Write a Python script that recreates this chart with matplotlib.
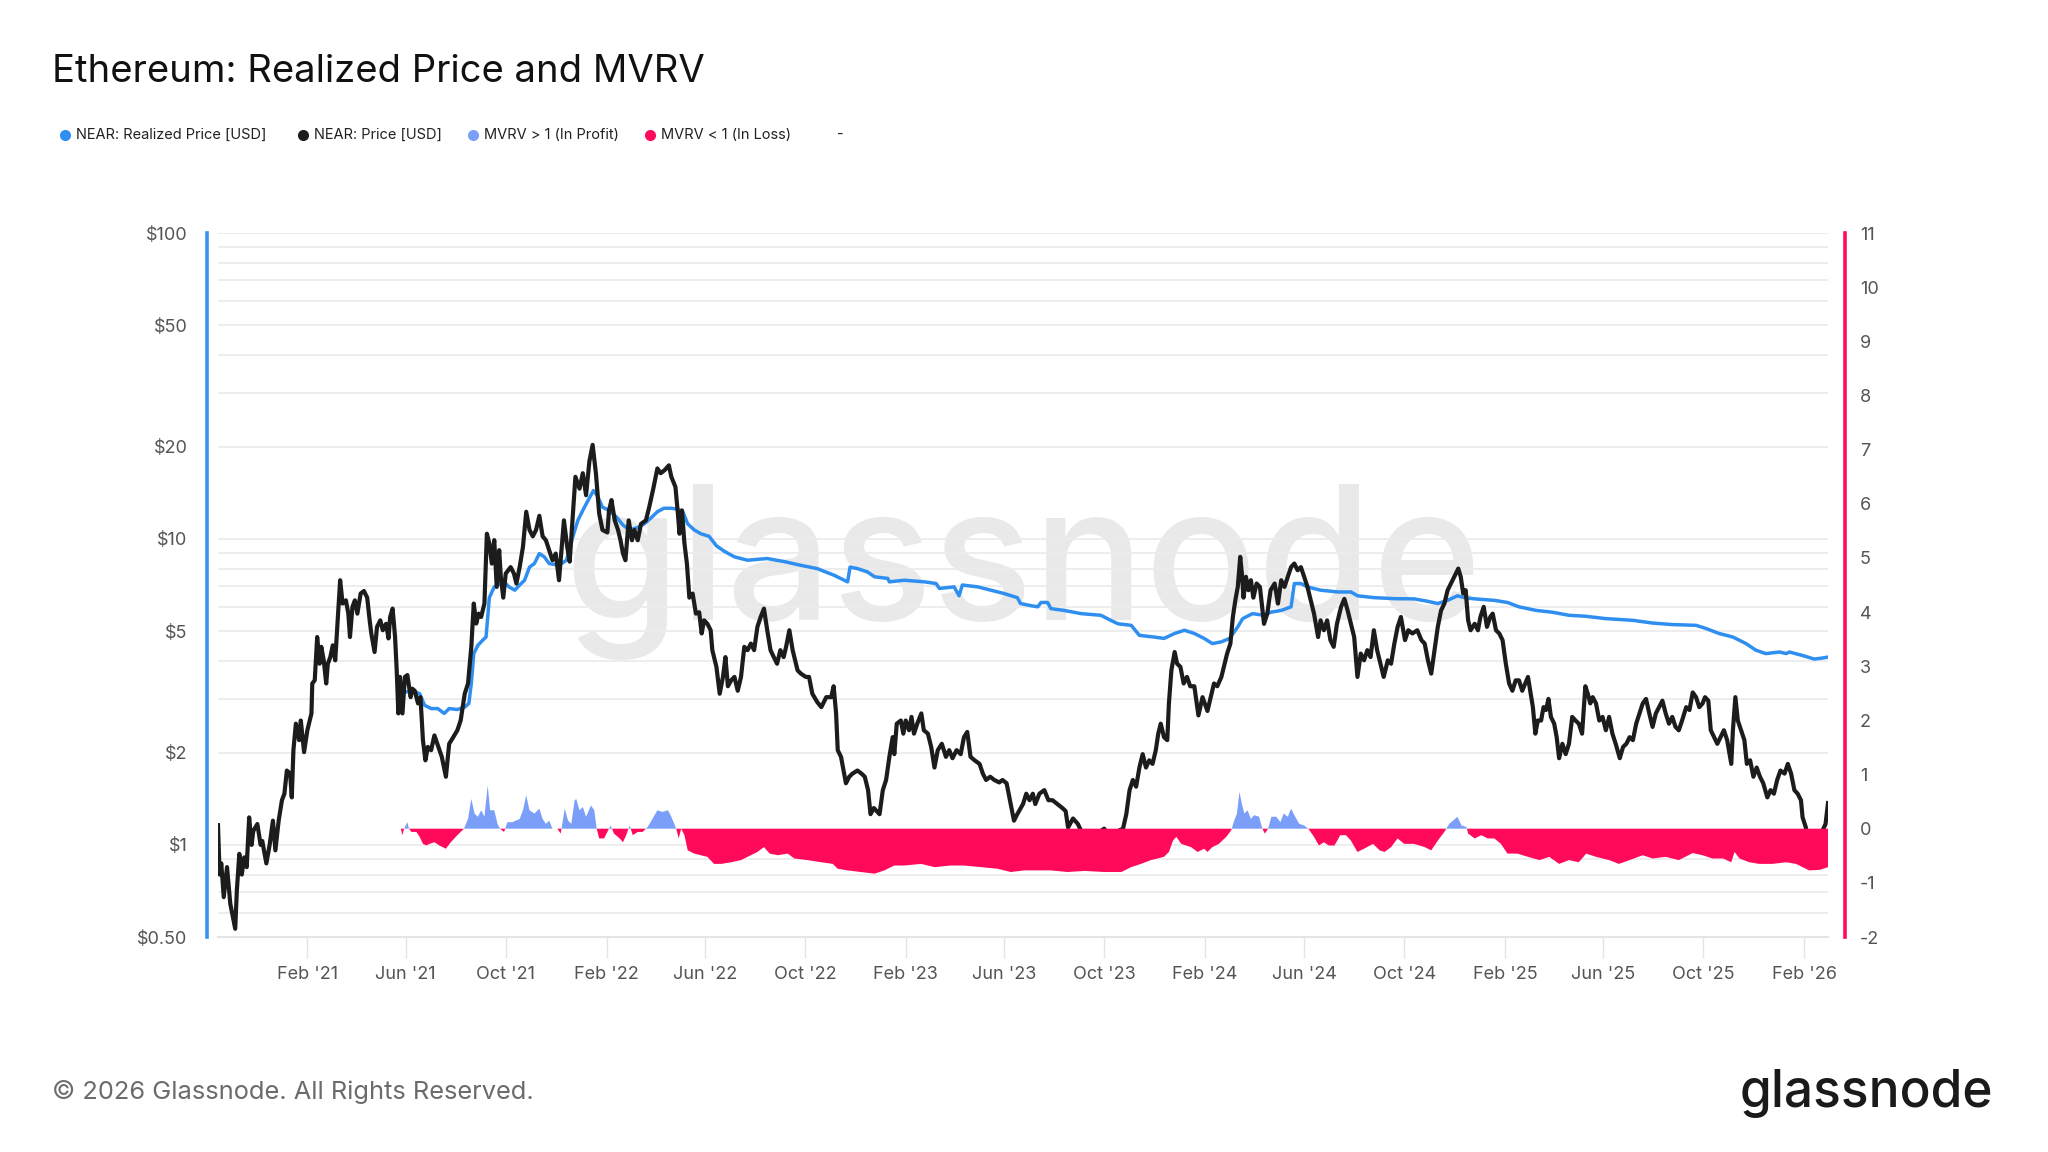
#!/usr/bin/env python3
"""
NEAR realized price vs price with MVRV oscillator (glassnode style)
"""
import matplotlib
matplotlib.use('Agg')
import matplotlib.pyplot as plt
import matplotlib.ticker as mticker
from matplotlib.lines import Line2D
import numpy as np
import pandas as pd

plt.rcParams['font.family'] = ['Inter', 'DejaVu Sans']

# days counted from 2021-02-01
base_date = pd.Timestamp('2021-02-01')

price_day = [
    -109, -107, -105, -102, -98, -94, -88, -86, -83, -80,
    -77, -74, -71, -68, -66, -61, -57, -55, -50, -46,
    -42, -39, -35, -31, -28, -25, -21, -19, -17, -14,
    -10, -8, -4, 0, 5, 6, 9, 12, 15, 17,
    20, 23, 25, 28, 31, 34, 37, 40, 43, 47,
    50, 52, 55, 58, 61, 65, 69, 73, 76, 78,
    82, 85, 89, 92, 96, 99, 101, 104, 107, 109,
    111, 113, 116, 119, 122, 126, 128, 131, 135, 138,
    141, 144, 147, 151, 155, 159, 164, 169, 173, 178,
    183, 187, 192, 196, 200, 203, 206, 209, 212, 216,
    219, 222, 225, 228, 231, 234, 236, 239, 242, 248,
    252, 255, 259, 263, 267, 271, 275, 279, 283, 287,
    291, 295, 299, 303, 307, 313, 317, 320, 324, 327,
    332, 336, 340, 344, 348, 352, 356, 360, 366, 368,
    371, 375, 379, 382, 385, 388, 392, 396, 399, 403,
    407, 413, 417, 422, 427, 431, 436, 441, 444, 449,
    452, 454, 457, 460, 463, 466, 470, 474, 478, 481,
    484, 488, 492, 494, 499, 503, 507, 510, 513, 517,
    521, 525, 529, 533, 537, 541, 545, 549, 553, 557,
    561, 565, 569, 573, 577, 581, 584, 588, 592, 598,
    602, 608, 612, 616, 622, 627, 633, 639, 642, 645,
    647, 651, 657, 661, 665, 671, 676, 680, 684, 687,
    691, 698, 702, 706, 710, 714, 716, 719, 724, 727,
    730, 734, 737, 740, 744, 749, 752, 757, 761, 765,
    769, 774, 779, 783, 787, 792, 797, 801, 805, 809,
    814, 820, 824, 828, 833, 838, 844, 848, 853, 858,
    862, 866, 873, 877, 881, 885, 888, 893, 899, 904,
    909, 915, 921, 925, 928, 934, 940, 944, 956, 964,
    972, 980, 989, 995, 999, 1003, 1007, 1011, 1015, 1019,
    1023, 1027, 1031, 1035, 1038, 1041, 1045, 1049, 1051, 1054,
    1058, 1061, 1065, 1069, 1073, 1077, 1082, 1087, 1092, 1098,
    1102, 1106, 1110, 1115, 1119, 1122, 1126, 1129, 1132, 1135,
    1138, 1140, 1142, 1145, 1148, 1151, 1154, 1158, 1162, 1167,
    1171, 1175, 1180, 1184, 1188, 1192, 1196, 1200, 1204, 1208,
    1212, 1216, 1220, 1224, 1228, 1233, 1236, 1240, 1244, 1248,
    1252, 1256, 1261, 1265, 1269, 1273, 1277, 1281, 1285, 1289,
    1293, 1297, 1301, 1305, 1309, 1313, 1318, 1322, 1326, 1330,
    1334, 1339, 1343, 1348, 1354, 1359, 1363, 1367, 1371, 1375,
    1379, 1383, 1387, 1391, 1395, 1399, 1404, 1407, 1410, 1413,
    1416, 1419, 1424, 1428, 1431, 1435, 1439, 1443, 1446, 1450,
    1454, 1458, 1462, 1466, 1470, 1474, 1478, 1482, 1489, 1493,
    1495, 1498, 1501, 1505, 1508, 1511, 1514, 1517, 1521, 1524,
    1527, 1531, 1535, 1539, 1543, 1547, 1551, 1555, 1559, 1562,
    1565, 1568, 1572, 1576, 1580, 1584, 1588, 1592, 1596, 1601,
    1605, 1609, 1613, 1617, 1621, 1625, 1629, 1633, 1637, 1641,
    1645, 1649, 1653, 1657, 1661, 1665, 1669, 1673, 1677, 1682,
    1686, 1690, 1694, 1698, 1702, 1705, 1709, 1712, 1716, 1720,
    1724, 1728, 1732, 1737, 1739, 1742, 1745, 1749, 1753, 1756,
    1760, 1764, 1768, 1772, 1776, 1781, 1785, 1789, 1793, 1797,
    1802, 1806, 1810, 1814, 1818, 1822, 1824, 1828, 1832, 1840,
    1848, 1852, 1855,
]
price_usd = [
    1.16, 0.80, 0.87, 0.675, 0.846, 0.642, 0.532, 0.71, 0.935, 0.80,
    0.91, 0.846, 1.23, 1.0, 1.11, 1.17, 1.0, 1.03, 0.87, 1.0,
    1.20, 0.96, 1.20, 1.40, 1.47, 1.75, 1.71, 1.43, 2.04, 2.49,
    2.20, 2.55, 2.01, 2.37, 2.69, 3.37, 3.45, 4.78, 3.91, 4.44,
    4.01, 3.37, 3.91, 4.11, 4.49, 4.01, 5.42, 7.33, 6.15, 6.30,
    5.70, 4.78, 6.0, 6.3, 5.70, 6.63, 6.76, 6.43, 5.42, 4.91,
    4.27, 5.16, 5.42, 5.03, 5.28, 4.73, 5.56, 5.92, 4.78, 3.72,
    2.69, 3.54, 2.69, 3.54, 3.59, 3.04, 3.24, 3.19, 2.90, 3.04,
    2.20, 1.89, 2.09, 2.04, 2.28, 2.12, 1.94, 1.67, 2.14, 2.25,
    2.37, 2.55, 3.12, 3.37, 4.44, 6.15, 5.29, 5.70, 5.56, 6.15,
    10.4, 9.67, 8.31, 9.91, 6.97, 9.19, 7.52, 6.43, 7.71, 8.09,
    7.71, 7.15, 8.09, 9.42, 12.27, 10.7, 10.2, 10.7, 11.9, 10.2,
    9.9, 9.19, 8.52, 8.96, 7.33, 11.5, 9.42, 8.43, 12.12, 15.96,
    14.6, 16.4, 13.9, 17.9, 20.3, 16.4, 12.1, 10.7, 10.5, 12.4,
    13.4, 11.5, 10.7, 9.9, 8.96, 8.52, 11.5, 9.9, 10.7, 9.9,
    11.2, 11.5, 12.7, 14.6, 17.0, 16.4, 16.8, 17.4, 15.96, 14.8,
    12.1, 10.4, 12.4, 9.67, 8.31, 6.43, 6.63, 5.70, 5.76, 4.91,
    5.42, 5.28, 5.03, 4.33, 3.82, 3.12, 3.54, 4.11, 3.30, 3.45,
    3.54, 3.19, 3.54, 4.44, 4.33, 4.55, 4.33, 5.16, 5.56, 5.92,
    5.03, 4.33, 4.11, 3.91, 4.33, 4.11, 4.44, 5.03, 4.33, 3.72,
    3.63, 3.54, 3.54, 3.12, 2.93, 2.82, 3.04, 3.04, 3.30, 2.69,
    2.04, 1.94, 1.59, 1.67, 1.71, 1.75, 1.71, 1.67, 1.51, 1.26,
    1.32, 1.26, 1.51, 1.63, 1.94, 2.25, 1.98, 2.49, 2.55, 2.31,
    2.55, 2.37, 2.62, 2.31, 2.49, 2.69, 2.37, 2.31, 2.09, 1.79,
    2.04, 2.14, 1.94, 2.04, 1.92, 2.04, 1.98, 2.25, 2.34, 1.94,
    1.89, 1.84, 1.71, 1.63, 1.67, 1.63, 1.60, 1.63, 1.59, 1.36,
    1.20, 1.26, 1.36, 1.47, 1.40, 1.47, 1.36, 1.47, 1.51, 1.40,
    1.40, 1.36, 1.32, 1.29, 1.14, 1.22, 1.17, 1.11, 1.11, 1.09,
    1.13, 1.05, 1.11, 1.13, 1.26, 1.51, 1.63, 1.55, 1.79, 1.98,
    1.79, 1.89, 1.84, 2.04, 2.31, 2.49, 2.25, 2.20, 2.90, 3.72,
    4.27, 3.91, 3.82, 3.37, 3.54, 3.30, 3.30, 2.65, 3.04, 2.74,
    3.04, 3.37, 3.30, 3.54, 3.91, 4.22, 4.55, 5.56, 6.3, 6.97,
    8.74, 7.71, 6.43, 7.52, 6.8, 7.33, 6.43, 7.15, 6.97, 5.28,
    5.70, 6.8, 7.15, 6.15, 7.33, 6.97, 7.52, 8.09, 8.31, 7.90,
    8.09, 7.52, 6.97, 6.3, 5.70, 4.78, 5.42, 5.03, 5.42, 4.67,
    4.44, 5.28, 6.0, 6.37, 5.84, 5.28, 4.78, 3.54, 4.22, 4.01,
    4.33, 4.11, 5.03, 4.33, 3.91, 3.54, 4.01, 3.91, 4.55, 5.16,
    5.56, 4.67, 5.03, 4.91, 5.03, 4.67, 4.55, 4.01, 3.63, 4.33,
    5.16, 5.84, 6.15, 6.8, 7.15, 7.52, 8.0, 7.52, 6.63, 6.8,
    5.42, 5.03, 5.28, 5.03, 5.56, 6.0, 5.16, 5.56, 5.70, 5.03,
    4.91, 4.67, 3.91, 3.37, 3.19, 3.45, 3.45, 3.19, 3.54, 3.04,
    2.82, 2.31, 2.55, 2.55, 2.82, 2.76, 3.0, 2.62, 2.49, 2.25,
    1.92, 2.14, 1.98, 2.14, 2.62, 2.55, 2.49, 2.31, 3.30, 3.12,
    2.90, 3.04, 2.90, 2.55, 2.62, 2.37, 2.62, 2.31, 2.14, 1.92,
    2.09, 2.14, 2.25, 2.20, 2.49, 2.69, 2.90, 3.0, 2.69, 2.43,
    2.69, 2.82, 2.96, 2.69, 2.49, 2.62, 2.43, 2.37, 2.55, 2.82,
    2.76, 3.15, 3.04, 2.82, 2.90, 3.04, 2.96, 2.37, 2.25, 2.14,
    2.25, 2.37, 2.20, 1.84, 2.37, 3.04, 2.55, 2.37, 2.20, 1.84,
    1.89, 1.67, 1.79, 1.67, 1.59, 1.43, 1.51, 1.47, 1.63, 1.75,
    1.71, 1.84, 1.71, 1.51, 1.47, 1.40, 1.23, 1.14, 1.0, 0.98,
    1.11, 1.17, 1.37,
]

realized_day = [
    120, 128, 137, 143, 151, 159, 167, 173, 183, 192,
    197, 200, 203, 208, 214, 218, 222, 228, 236, 242,
    246, 253, 259, 265, 271, 277, 283, 289, 295, 307,
    316, 324, 330, 338, 344, 349, 354, 360, 368, 377,
    385, 393, 403, 411, 419, 427, 435, 444, 452, 458,
    464, 472, 480, 490, 499, 509, 521, 537, 561, 582,
    602, 622, 643, 659, 662, 671, 683, 692, 708, 710,
    728, 753, 767, 771, 789, 795, 799, 818, 834, 850,
    866, 870, 883, 891, 895, 903, 907, 923, 944, 968,
    980, 989, 1005, 1015, 1033, 1045, 1058, 1070, 1082, 1094,
    1104, 1115, 1125, 1135, 1141, 1153, 1167, 1175, 1188, 1200,
    1204, 1212, 1220, 1236, 1257, 1273, 1281, 1301, 1326, 1350,
    1366, 1379, 1391, 1403, 1411, 1424, 1448, 1464, 1478, 1499,
    1519, 1539, 1559, 1584, 1617, 1641, 1665, 1694, 1706, 1722,
    1739, 1755, 1767, 1779, 1796, 1804, 1808, 1824, 1838, 1848,
    1855,
]
realized_usd = [
    3.16, 3.19, 3.12, 2.86, 2.79, 2.79, 2.69, 2.79, 2.77, 2.82,
    2.90, 3.37, 4.22, 4.49, 4.67, 4.78, 6.43, 6.97, 7.15, 7.15,
    6.97, 6.8, 7.07, 7.33, 8.09, 8.31, 8.96, 8.74, 8.31, 8.2,
    8.52, 10.2, 11.5, 12.7, 13.6, 14.4, 13.8, 12.7, 12.4, 11.8,
    11.1, 10.7, 10.9, 11.2, 11.7, 12.27, 12.6, 12.6, 12.5, 12.27,
    11.2, 10.7, 10.4, 10.2, 9.5, 9.1, 8.74, 8.52, 8.63, 8.43,
    8.2, 8.0, 7.6, 7.24, 8.09, 8.0, 7.81, 7.52, 7.43, 7.24,
    7.33, 7.24, 7.15, 6.89, 6.97, 6.52, 7.07, 6.97, 6.8, 6.63,
    6.43, 6.15, 6.05, 6.0, 6.2, 6.2, 5.92, 5.84, 5.70, 5.63,
    5.42, 5.28, 5.22, 4.84, 4.78, 4.73, 4.91, 5.03, 4.91, 4.73,
    4.55, 4.61, 4.73, 5.16, 5.49, 5.70, 5.63, 5.76, 5.84, 6.0,
    7.15, 7.15, 6.97, 6.8, 6.71, 6.71, 6.52, 6.43, 6.38, 6.37,
    6.26, 6.15, 6.3, 6.52, 6.43, 6.37, 6.3, 6.2, 6.0, 5.84,
    5.76, 5.63, 5.59, 5.49, 5.42, 5.31, 5.25, 5.22, 5.10, 4.91,
    4.78, 4.55, 4.33, 4.22, 4.27, 4.22, 4.27, 4.16, 4.05, 4.08,
    4.11,
]

mvrv_day = [
    114, 116, 118, 122, 124, 127, 133, 137, 141, 145,
    149, 155, 161, 169, 175, 183, 191, 196, 200, 204,
    208, 212, 216, 220, 223, 228, 232, 235, 240, 244,
    250, 259, 263, 267, 271, 277, 283, 287, 291, 295,
    299, 305, 309, 311, 314, 318, 322, 326, 328, 332,
    336, 340, 346, 350, 353, 356, 362, 366, 370, 374,
    381, 385, 389, 393, 397, 403, 409, 415, 421, 427,
    433, 440, 444, 450, 453, 456, 460, 464, 472, 480,
    488, 496, 505, 517, 529, 541, 549, 557, 564, 574,
    586, 594, 610, 627, 641, 647, 659, 675, 692, 704,
    716, 728, 749, 765, 785, 801, 822, 842, 858, 875,
    891, 907, 927, 948, 972, 993, 1005, 1017, 1029, 1045,
    1051, 1056, 1060, 1066, 1072, 1078, 1086, 1094, 1098, 1104,
    1112, 1121, 1127, 1130, 1134, 1137, 1140, 1143, 1147, 1151,
    1155, 1161, 1165, 1168, 1172, 1176, 1182, 1187, 1191, 1196,
    1200, 1204, 1210, 1216, 1221, 1228, 1234, 1240, 1246, 1253,
    1260, 1267, 1273, 1281, 1289, 1300, 1308, 1314, 1322, 1330,
    1338, 1350, 1363, 1371, 1379, 1387, 1393, 1403, 1408, 1414,
    1416, 1424, 1432, 1440, 1448, 1456, 1464, 1476, 1489, 1503,
    1515, 1527, 1539, 1551, 1560, 1572, 1588, 1600, 1613, 1629,
    1641, 1657, 1673, 1690, 1702, 1714, 1727, 1737, 1741, 1747,
    1759, 1771, 1787, 1804, 1816, 1824, 1832, 1845, 1855,
]
mvrv_val = [
    0, -0.12, 0, 0.12, 0, -0.06, -0.06, -0.15, -0.28, -0.31,
    -0.28, -0.25, -0.31, -0.37, -0.25, -0.12, 0, 0.18, 0.55, 0.28,
    0.22, 0.34, 0.22, 0.80, 0.34, 0.34, 0.09, 0, -0.06, 0.12,
    0.12, 0.18, 0.34, 0.62, 0.34, 0.28, 0.37, 0.18, 0.09, 0.15,
    0, 0, -0.09, 0.09, 0.37, 0.15, 0.09, 0.52, 0.55, 0.34,
    0.40, 0.22, 0.43, 0.34, 0, -0.18, -0.18, -0.06, 0.06, -0.09,
    -0.18, -0.25, -0.12, 0.06, -0.12, -0.06, -0.06, 0.03, 0.18, 0.34,
    0.31, 0.34, 0.22, 0, -0.18, 0, -0.12, -0.40, -0.46, -0.49,
    -0.52, -0.65, -0.65, -0.62, -0.58, -0.49, -0.43, -0.34, -0.46, -0.49,
    -0.46, -0.55, -0.58, -0.62, -0.65, -0.74, -0.77, -0.80, -0.83, -0.77,
    -0.68, -0.68, -0.65, -0.71, -0.68, -0.68, -0.71, -0.74, -0.80, -0.77,
    -0.77, -0.77, -0.80, -0.78, -0.80, -0.80, -0.71, -0.65, -0.58, -0.52,
    -0.43, -0.22, -0.15, -0.28, -0.31, -0.34, -0.43, -0.37, -0.43, -0.34,
    -0.28, -0.15, -0.03, 0.12, 0.28, 0.68, 0.46, 0.28, 0.34, 0.18,
    0.25, 0.22, 0, -0.09, 0, 0.22, 0.22, 0.12, 0.28, 0.22,
    0.37, 0.25, 0.09, 0.06, 0, -0.15, -0.31, -0.25, -0.31, -0.31,
    -0.12, -0.12, -0.22, -0.43, -0.37, -0.28, -0.40, -0.43, -0.34, -0.18,
    -0.28, -0.28, -0.34, -0.40, -0.22, -0.06, 0.09, 0.22, 0.06, 0.03,
    -0.09, -0.18, -0.12, -0.18, -0.18, -0.28, -0.46, -0.46, -0.52, -0.58,
    -0.52, -0.65, -0.58, -0.62, -0.46, -0.52, -0.58, -0.65, -0.58, -0.49,
    -0.55, -0.52, -0.58, -0.45, -0.49, -0.55, -0.55, -0.62, -0.43, -0.55,
    -0.62, -0.65, -0.65, -0.62, -0.65, -0.71, -0.77, -0.76, -0.71,
]

left_ticks = [0.5, 1, 2, 5, 10, 20, 50, 100]
left_labels = ['$0.50', '$1', '$2', '$5', '$10', '$20', '$50', '$100']
grid_levels = [0.5, 0.6, 0.7, 0.8, 0.9, 1, 2, 3, 4, 5, 6, 7, 8, 9, 10,
               20, 30, 40, 50, 60, 70, 80, 90, 100]
right_ticks = list(range(-2, 12))

legend_items = [
    ('NEAR: Realized Price [USD]', '#2f8ff0'),
    ('NEAR: Price [USD]', '#1c1c1c'),
    ('MVRV > 1 (In Profit)', '#7b9ff9'),
    ('MVRV < 1 (In Loss)', '#ff0a5a'),
]

C_REAL = '#2f8ff0'
C_PRICE = '#1c1c1c'
C_POS = '#7b9ff9'
C_NEG = '#ff0a5a'
C_TXT = '#555555'

def to_dates(days):
    return base_date + pd.to_timedelta(np.array(days, dtype=float), unit='D')

p_dates = to_dates(price_day)
r_dates = to_dates(realized_day)
m_dates = to_dates(mvrv_day)
m = np.array(mvrv_val, dtype=float)

fig = plt.figure(figsize=(20.48, 11.52), dpi=100)
fig.patch.set_facecolor('white')

ax = fig.add_axes([218 / 2048, 215 / 1152, 1610 / 2048, 704 / 1152])
ax.set_yscale('log')
ax.set_ylim(0.5, 100)
ax.set_xlim(p_dates[0], p_dates[-1])
ax.set_axisbelow(True)

# watermark
ax.text(0.5, 0.45, 'glassnode', transform=ax.transAxes, ha='center', va='baseline',
        fontsize=134, color='#e9e9e9', fontweight='medium', zorder=0)

ax.plot(r_dates, realized_usd, color=C_REAL, lw=2.5, zorder=3)
ax.plot(p_dates, price_usd, color=C_PRICE, lw=3.0, zorder=4, solid_joinstyle='round')

ax.yaxis.set_major_locator(mticker.FixedLocator(left_ticks))
ax.yaxis.set_major_formatter(mticker.FixedFormatter(left_labels))
ax.yaxis.set_minor_locator(mticker.FixedLocator(grid_levels))
ax.yaxis.set_minor_formatter(mticker.NullFormatter())
ax.grid(True, axis='y', which='both', color='#ececec', lw=1.3)
ax.tick_params(axis='y', which='both', length=0, pad=14, labelsize=13, labelcolor=C_TXT)

xt = pd.date_range('2021-02-01', '2026-02-01', freq='4MS')
ax.set_xticks(xt)
ax.set_xticklabels([d.strftime("%b '%y") for d in xt])
ax.tick_params(axis='x', length=15, width=1, color='#e4e4e4', pad=6,
               labelsize=13, labelcolor=C_TXT)

for s in ['top', 'right']:
    ax.spines[s].set_visible(False)
ax.spines['bottom'].set_color('#e4e4e4')
ax.spines['bottom'].set_linewidth(1.5)
ax.spines['left'].set_position(('outward', 8))
ax.spines['left'].set_color('#3b93f0')
ax.spines['left'].set_linewidth(2.6)

# MVRV oscillator on the right axis
ax2 = ax.twinx()
ax2.set_ylim(-2, 11)
ax2.fill_between(m_dates, 0, m, where=m >= 0, interpolate=True, color=C_POS, lw=0)
ax2.fill_between(m_dates, 0, m, where=m <= 0, interpolate=True, color=C_NEG, lw=0)
ax2.set_yticks(right_ticks)
ax2.set_yticklabels([str(t) for t in right_ticks])
ax2.tick_params(axis='y', length=0, pad=11, labelsize=13, labelcolor=C_TXT)
for s in ['top', 'left', 'bottom']:
    ax2.spines[s].set_visible(False)
ax2.spines['right'].set_position(('outward', 12))
ax2.spines['right'].set_color(C_NEG)
ax2.spines['right'].set_linewidth(2.6)
ax2.set_xlim(p_dates[0], p_dates[-1])

# title, legend, footer
fig.text(52 / 2048, 1 - 72 / 1152, 'Ethereum: Realized Price and MVRV',
         fontsize=27.5, color='#111111', va='center', ha='left')

leg_y = 1 - 135 / 1152
dot_x = [65, 303, 473, 650]
for (label, col), dx in zip(legend_items, dot_x):
    fig.add_artist(Line2D([dx / 2048], [leg_y], marker='o', ms=7, color=col, lw=0,
                          transform=fig.transFigure))
    fig.text((dx + 11) / 2048, leg_y, label, fontsize=10.5, color='#222222',
             va='center', ha='left')
fig.text(837 / 2048, leg_y, '-', fontsize=10.5, color='#222222', va='center')

fig.text(52 / 2048, 1 - 1092 / 1152, '\u00a9 2026 Glassnode. All Rights Reserved.',
         fontsize=18.3, color='#6b6b6b', va='center', ha='left')
fig.text(1993 / 2048, 1 - 1093 / 1152, 'glassnode', fontsize=37, color='#1a1a1a',
         fontweight='medium', va='center', ha='right')

fig.savefig('out.png', dpi=100, facecolor='white')
